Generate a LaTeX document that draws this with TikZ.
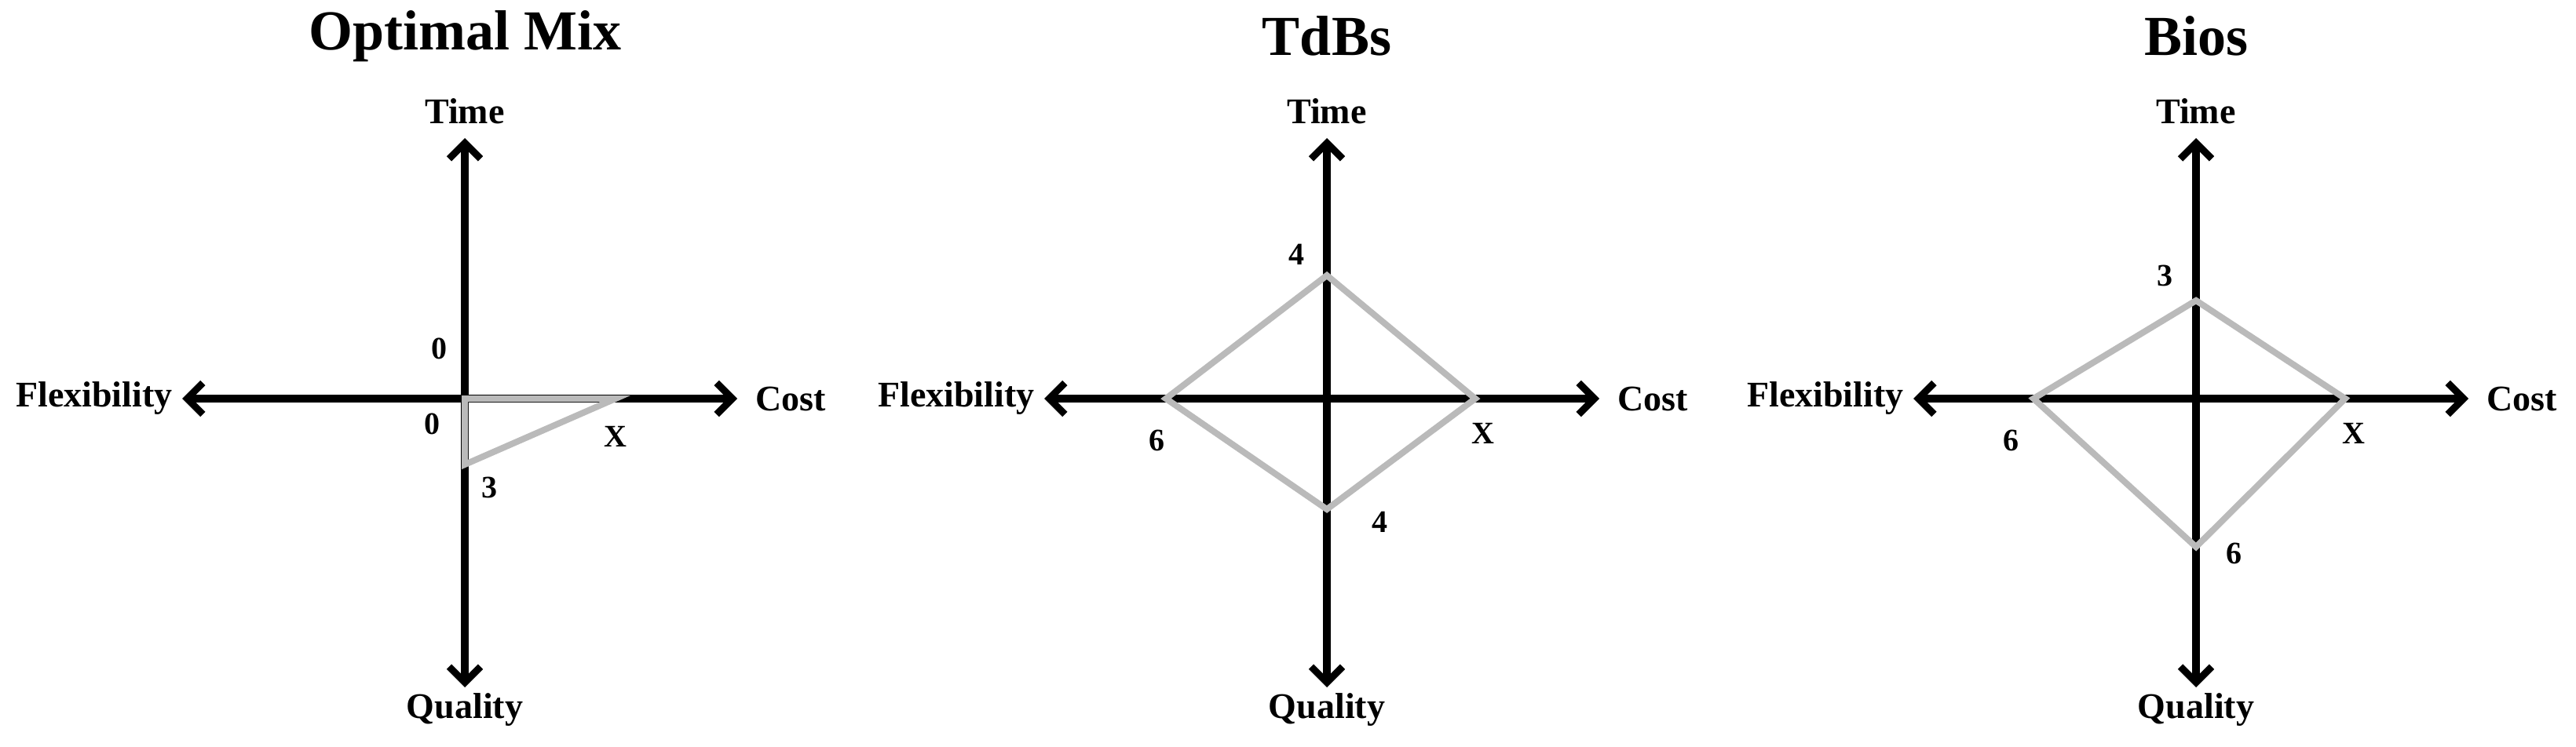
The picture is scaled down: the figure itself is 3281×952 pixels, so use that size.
\documentclass[tikz,border=0pt]{standalone}
\usepackage{fontspec}
\setmainfont{Liberation Serif}
\usetikzlibrary{arrows.meta}
\begin{document}
\begin{tikzpicture}[x=0.5pt,y=-0.5pt,
  axis/.style={line width=5pt,-{Straight Barb[length=10pt,width=20pt,line width=4.5pt]}},
  poly/.style={draw=black!27,line width=4pt,line join=miter},
  lab/.style={font=\bfseries\fontsize{23}{26}\selectfont},
  num/.style={font=\bfseries\fontsize{20}{23}\selectfont},
  ttl/.style={font=\bfseries\fontsize{36}{40}\selectfont}]
\useasboundingbox (0,0) rectangle (3281,952);
\foreach \cx/\nm/\tt in {592/a/Optimal Mix,1690/b/TdBs,2797/c/Bios}{
  \coordinate (\nm o) at (\cx,508);
  \node[ttl] (\nm t) at (\cx,46) {\tt};
  \node[lab] (\nm time) at (\cx,142) {Time};
  \node[lab] (\nm qual) at (\cx,904) {Quality};
  \node[lab,anchor=east,inner sep=0pt] (\nm flex) at (\cx-372,508) {Flexibility};
  \node[lab,anchor=west,inner sep=0pt] (\nm cost) at (\cx+370,508) {Cost};
  \coordinate (\nm up) at (\cx,176);
  \coordinate (\nm dn) at (\cx,876);
  \coordinate (\nm lf) at (\cx-360,508);
  \coordinate (\nm rt) at (\cx+347,508);
}
\foreach \nm in {a,b,c}{
  \draw[axis] (\nm o) -- (\nm up);
  \draw[axis] (\nm o) -- (\nm dn);
  \draw[axis] (\nm o) -- (\nm lf);
  \draw[axis] (\nm o) -- (\nm rt);
}
\coordinate (ax) at (784,508); \coordinate (aq) at (592,592);
\draw[poly] (ao) -- (ax) -- (aq) -- cycle;
\coordinate (bt) at (1690,351); \coordinate (br) at (1879,508);
\coordinate (bq) at (1690,649); \coordinate (bl) at (1485,508);
\draw[poly] (bt) -- (br) -- (bq) -- (bl) -- cycle;
\coordinate (ct) at (2797,383); \coordinate (cr) at (2987,508);
\coordinate (cq) at (2797,697); \coordinate (cl) at (2590,508);
\draw[poly] (ct) -- (cr) -- (cq) -- (cl) -- cycle;
\node[num] (n1) at (559,444) {0};
\node[num] (n2) at (550,540) {0};
\node[num] (n3) at (623,621) {3};
\node[num] (n4) at (784,556) {X};
\node[num] (n5) at (1651,324) {4};
\node[num] (n6) at (1473,561) {6};
\node[num] (n7) at (1889,552) {X};
\node[num] (n8) at (1757,665) {4};
\node[num] (n9) at (2757,351) {3};
\node[num] (n10) at (2561,561) {6};
\node[num] (n11) at (2998,552) {X};
\node[num] (n12) at (2845,705) {6};
\end{tikzpicture}
\end{document}
